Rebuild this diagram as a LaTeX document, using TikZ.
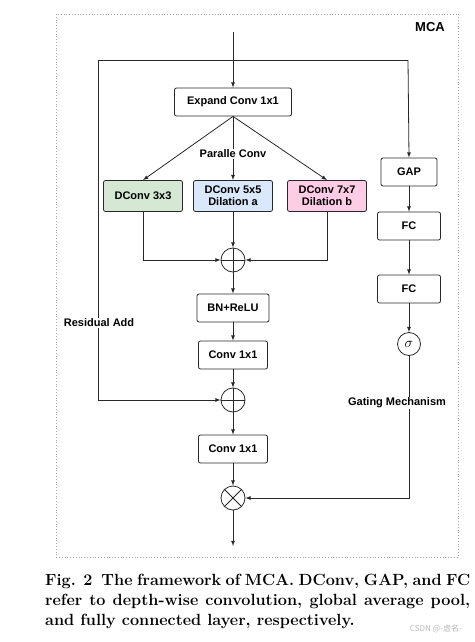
\documentclass[tikz,border=0pt]{standalone}
\usepackage{fontspec}
\usepackage{amsmath,amssymb}
\usepackage{tikz}
\usetikzlibrary{shapes,arrows,positioning}
\newfontfamily\boxfont{Liberation Sans}
\newfontfamily\cjkfont{Noto Sans CJK SC}
\definecolor{dgreen}{RGB}{213,232,212}
\definecolor{dblue}{RGB}{218,232,252}
\definecolor{dpink}{RGB}{255,204,230}
\definecolor{edge}{RGB}{40,40,40}
\tikzstyle{block} = [rectangle, draw=edge, fill=white, thick, rounded corners=2pt,
    font=\boxfont\bfseries\fontsize{11}{12}\selectfont, align=center,
    minimum height=28pt, inner sep=2pt]
\tikzstyle{opnode} = [circle, draw=edge, thick, minimum size=24pt, inner sep=0pt]
\tikzstyle{line} = [draw=edge, thick]
\tikzstyle{arr} = [line, -latex]
\tikzstyle{lbl} = [font=\boxfont\bfseries\fontsize{11}{12}\selectfont, inner sep=1pt]
\tikzstyle{captext} = [anchor=west, inner sep=0pt, font=\bfseries\fontsize{16.2}{18}\selectfont]

\begin{document}
\begin{tikzpicture}[x=1pt,y=-1pt]
    \useasboundingbox (0,0) rectangle (474,642);
    % frame
    \draw[gray!70, dotted, thick] (56,14) rectangle (458,557);
    \node[lbl, font=\boxfont\bfseries\fontsize{13}{14}\selectfont] (mca) at (430,27) {MCA};

    % main branch
    \coordinate (in) at (233,32);
    \node[block, minimum width=117pt] (expand) at (233,102) {Expand Conv 1x1};
    \node[block, fill=dgreen, minimum width=79pt, minimum height=31pt] (dc3) at (143,196) {DConv 3x3};
    \node[block, fill=dblue, minimum width=79pt, minimum height=31pt] (dc5) at (233,196) {DConv 5x5\\Dilation a};
    \node[block, fill=dpink, minimum width=79pt, minimum height=31pt] (dc7) at (327,196) {DConv 7x7\\Dilation b};
    \node[lbl, fill=white] (paralle) at (233,154) {Paralle Conv};
    \node[opnode] (sum1) at (233,260) {};
    \node[block, minimum width=72pt] (bn) at (233,308) {BN+ReLU};
    \node[block, minimum width=69pt] (conv1) at (233,355) {Conv 1x1};
    \node[opnode] (sum2) at (233,400) {};
    \node[block, minimum width=69pt] (conv2) at (233,449) {Conv 1x1};
    \node[opnode] (mul) at (233,498) {};
    \coordinate (out) at (233,546);

    % gating branch
    \node[block, minimum width=56pt] (gap) at (409,172) {GAP};
    \node[block, minimum width=63pt] (fc1) at (409,226) {FC};
    \node[block, minimum width=63pt] (fc2) at (409,289) {FC};
    \node[circle, draw=edge, thick, minimum size=23pt, inner sep=0pt] (sig) at (409,344) {\Large$\sigma$};

    % signs in the circles
    \draw[line] (sum1.north) -- (sum1.south) (sum1.west) -- (sum1.east);
    \draw[line] (sum2.north) -- (sum2.south) (sum2.west) -- (sum2.east);
    \draw[line] (mul.north west) -- (mul.south east) (mul.north east) -- (mul.south west);

    % connectors
    \coordinate (resL) at (98,60);
    \coordinate (gateR) at (408,60);
    \draw[arr] (in) -- (expand.north);
    \draw[line] (resL) -- (gateR);
    \draw[arr] (gateR) -- (gap.north);
    \draw[arr] (expand.south) -- (dc3.north);
    \draw[arr] (expand.south) -- (paralle.north) (paralle.south) -- (dc5.north);
    \draw[arr] (expand.south) -- (dc7.north);
    \draw[arr] (dc3.south) |- (sum1.west);
    \draw[arr] (dc5.south) -- (sum1.north);
    \draw[arr] (dc7.south) |- (sum1.east);
    \draw[arr] (sum1.south) -- (bn.north);
    \draw[arr] (bn.south) -- (conv1.north);
    \draw[arr] (conv1.south) -- (sum2.north);
    \draw[arr] (resL) |- (sum2.west);
    \draw[arr] (sum2.south) -- (conv2.north);
    \draw[arr] (conv2.south) -- (mul.north);
    \draw[arr] (mul.south) -- (out);
    \draw[arr] (gap.south) -- (fc1.north);
    \draw[arr] (fc1.south) -- (fc2.north);
    \draw[arr] (fc2.south) -- (sig.north);
    \draw[arr] (sig.south) |- (mul.east);
    \node[lbl, fill=white] (resadd) at (99,323) {Residual Add};
    \node[lbl, fill=white] (gating) at (397,403) {Gating Mechanism};

    % caption
    \node[captext] (cap1) at (45,581) {\makebox[425pt][s]{Fig. 2\ \ The framework of MCA. DConv, GAP, and FC}};
    \node[captext] (cap2) at (45,601) {\makebox[425pt][s]{refer to depth-wise convolution, global average pool,}};
    \node[captext] (cap3) at (45,621) {and fully connected layer, respectively.};
    \node[anchor=east, inner sep=0pt, text=gray!55, font=\cjkfont\fontsize{8}{9}\selectfont] (mark) at (462,629) {CSDN @-虚名-};
\end{tikzpicture}
\end{document}
